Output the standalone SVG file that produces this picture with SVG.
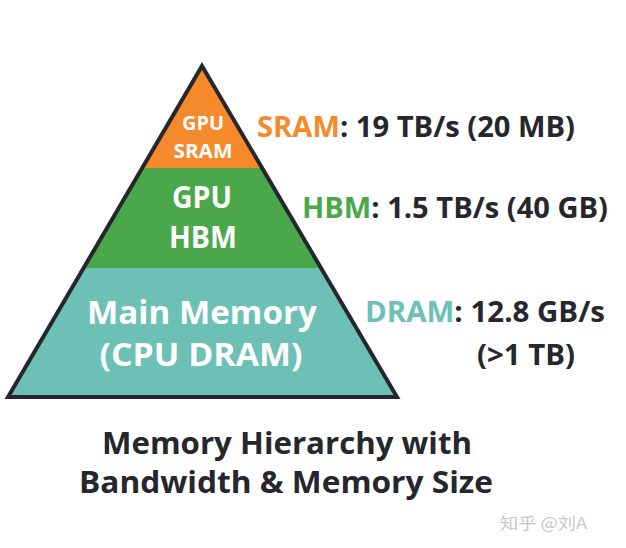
<svg xmlns="http://www.w3.org/2000/svg" width="626" height="548" viewBox="0 0 626 548">
<style>
text{font-family:"Open Sans","Liberation Sans",sans-serif;font-weight:700}
.w{fill:#ffffff}
.d{fill:#25272d}
.o{fill:#f58a2c}
.g{fill:#4aa84a}
.t{fill:#6cc0b6}
</style>
<rect width="626" height="548" fill="#ffffff"/>
<g id="pyramid">
<g id="sram">
<polygon points="202,66 262,168 142,168" fill="#f58a2c"/>
<text class="w" x="203" y="130" font-size="19" text-anchor="middle" textLength="42" lengthAdjust="spacingAndGlyphs">GPU</text>
<text class="w" x="203" y="158" font-size="19" text-anchor="middle" textLength="59" lengthAdjust="spacingAndGlyphs">SRAM</text>
</g>
<g id="hbm">
<polygon points="142,168 262,168 321,268 83,268" fill="#4aa84a"/>
<text class="w" x="202" y="208" font-size="30" text-anchor="middle" textLength="60" lengthAdjust="spacingAndGlyphs">GPU</text>
<text class="w" x="203" y="248" font-size="30" text-anchor="middle" textLength="68" lengthAdjust="spacingAndGlyphs">HBM</text>
</g>
<g id="dram">
<polygon points="83,268 321,268 397,397 8,397" fill="#6cc0b6"/>
<text class="w" x="202" y="324" font-size="33" text-anchor="middle" textLength="230" lengthAdjust="spacingAndGlyphs">Main Memory</text>
<text class="w" x="201" y="366" font-size="33" text-anchor="middle" textLength="203" lengthAdjust="spacingAndGlyphs">(CPU DRAM)</text>
</g>
<polygon points="202,66 397,397 8,397" fill="none" stroke="#25272d" stroke-width="4" stroke-linejoin="miter"/>
</g>
<g id="labels">
<text x="257" y="137" font-size="28" textLength="318" lengthAdjust="spacingAndGlyphs"><tspan class="o">SRAM</tspan><tspan class="d">: 19 TB/s (20 MB)</tspan></text>
<text x="302" y="218" font-size="28" textLength="306" lengthAdjust="spacingAndGlyphs"><tspan class="g">HBM</tspan><tspan class="d">: 1.5 TB/s (40 GB)</tspan></text>
<text x="365" y="322" font-size="28" textLength="240" lengthAdjust="spacingAndGlyphs"><tspan class="t">DRAM</tspan><tspan class="d">: 12.8 GB/s</tspan></text>
<text class="d" x="477" y="365" font-size="28" textLength="98" lengthAdjust="spacingAndGlyphs">(&gt;1 TB)</text>
</g>
<g id="title">
<text class="d" x="102" y="454" font-size="30" textLength="370" lengthAdjust="spacingAndGlyphs">Memory Hierarchy with</text>
<text class="d" x="79" y="493" font-size="30" textLength="414" lengthAdjust="spacingAndGlyphs">Bandwidth &amp; Memory Size</text>
</g>
<text x="500" y="529" font-size="16" style="font-family:'Noto Sans CJK SC','Noto Sans',sans-serif;font-weight:400" fill="#c8c8c8" textLength="87" lengthAdjust="spacingAndGlyphs">知乎 @刘A</text>
</svg>
